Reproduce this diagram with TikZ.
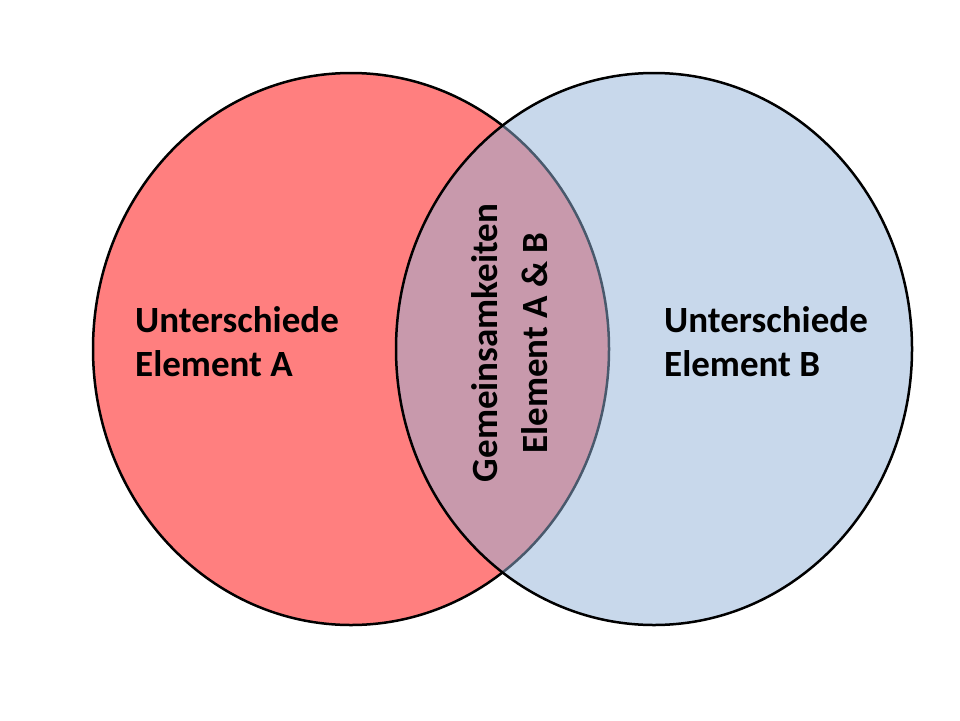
\documentclass[tikz,border=0pt]{standalone}
\usepackage{fontspec}
\setmainfont{Carlito}
\begin{document}
\begin{tikzpicture}[x=1pt,y=-1pt,
  lbl/.style={font=\bfseries\fontsize{37}{44}\selectfont,align=left,text=black,inner sep=0pt}]
\useasboundingbox (0,0) rectangle (960,720);
\fill[white] (0,0) rectangle (960,720);
\draw[line width=2.5pt,fill={rgb,255:red,255;green,127;blue,127}] (351,349) ellipse [x radius=258,y radius=276];
\draw[line width=2.5pt,fill={rgb,255:red,147;green,179;blue,217},fill opacity=0.5] (654,349) ellipse [x radius=258,y radius=276];
\node[lbl,anchor=west] (a) at (135,342) {Unterschiede\\Element A};
\node[lbl,anchor=west] (b) at (664,342) {Unterschiede\\Element B};
\node[lbl,align=center,rotate=90,font=\bfseries\fontsize{37}{50}\selectfont] (c) at (510,343) {Gemeinsamkeiten\\Element A \& B};
\end{tikzpicture}
\end{document}
